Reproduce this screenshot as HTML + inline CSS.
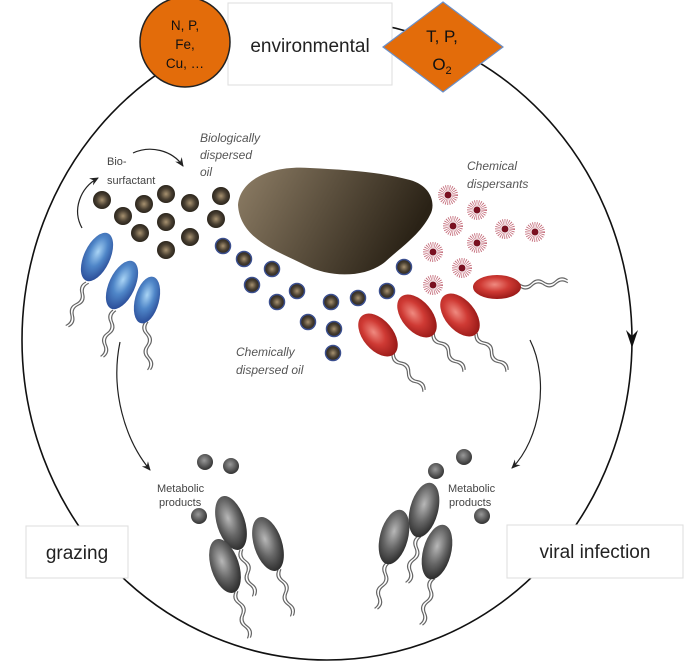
<!DOCTYPE html>
<html><head><meta charset="utf-8"><style>
html,body{margin:0;padding:0;background:#fff;width:685px;height:666px;overflow:hidden}
svg{display:block}
text{font-family:"Liberation Sans",sans-serif}
.it{font-style:italic;fill:#555;font-size:12px}
.lb{fill:#444;font-size:11px}
.tail{fill:none;stroke:#666;stroke-width:1.2}
</style></head><body>
<svg width="685" height="666" viewBox="0 0 685 666">
<defs>
<radialGradient id="blue" cx="0.45" cy="0.4" r="0.6"><stop offset="0" stop-color="#a9d4f5"/><stop offset="0.5" stop-color="#4f86c8"/><stop offset="1" stop-color="#2c4f9a"/></radialGradient>
<radialGradient id="red" cx="0.45" cy="0.4" r="0.6"><stop offset="0" stop-color="#ef8a80"/><stop offset="0.5" stop-color="#cf3a34"/><stop offset="1" stop-color="#9a1a18"/></radialGradient>
<radialGradient id="gray" cx="0.45" cy="0.4" r="0.6"><stop offset="0" stop-color="#b8b8b8"/><stop offset="0.55" stop-color="#666"/><stop offset="1" stop-color="#2e2e2e"/></radialGradient>
<radialGradient id="drop" cx="0.5" cy="0.5" r="0.5"><stop offset="0" stop-color="#a89270"/><stop offset="0.6" stop-color="#4a4032"/><stop offset="1" stop-color="#2a241b"/></radialGradient>
<radialGradient id="gdrop" cx="0.45" cy="0.4" r="0.55"><stop offset="0" stop-color="#999"/><stop offset="1" stop-color="#3a3a3a"/></radialGradient>
<linearGradient id="oil" x1="0" y1="0" x2="1" y2="0.3"><stop offset="0" stop-color="#8e7e66"/><stop offset="1" stop-color="#2a2216"/></linearGradient>
<marker id="ah" markerWidth="10" markerHeight="10" refX="8" refY="5" orient="auto" markerUnits="userSpaceOnUse"><path d="M0,1 L9,5 L0,9 L3,5 Z" fill="#222"/></marker>
<g id="wt"><path class="tail" d="M0,0 q-5,6 0,12 q5,6 0,12 q-5,6 0,12 q5,6 0,12"/><path class="tail" d="M3,0 q-5,6 0,12 q5,6 0,12 q-5,6 0,12 q5,6 0,12"/></g>
<g id="ds"><circle r="7" fill="none" stroke="#b85060" stroke-width="6" stroke-dasharray="0.7 1.1" opacity="0.85"/><circle r="3.5" fill="#7a1020"/></g>
</defs>

<!-- big circle -->
<ellipse cx="327" cy="340" rx="305" ry="320" fill="none" stroke="#111" stroke-width="1.6"/>
<path d="M626,330 L632,348 L638,330 L632,336 Z" fill="#111"/>

<!-- top nodes -->
<rect x="228" y="3" width="164" height="82" fill="#fff"/>
<rect x="228" y="3" width="164" height="82" fill="none" stroke="#ddd" stroke-width="1"/>
<text x="310" y="52" text-anchor="middle" font-size="19" fill="#222">environmental</text>
<circle cx="185" cy="42" r="45" fill="#e36c0a" stroke="#222" stroke-width="1.5"/>
<text x="185" y="30" text-anchor="middle" font-size="13.5" fill="#111">N, P,</text>
<text x="185" y="49" text-anchor="middle" font-size="13.5" fill="#111">Fe,</text>
<text x="185" y="68" text-anchor="middle" font-size="13.5" fill="#111">Cu, …</text>
<polygon points="443,2 503,47 443,92 383,47" fill="#e36c0a" stroke="#6a8fc8" stroke-width="1.2"/>
<text x="442" y="42" text-anchor="middle" font-size="17" fill="#111">T, P,</text>
<text x="442" y="70" text-anchor="middle" font-size="17" fill="#111">O<tspan font-size="11" dy="4">2</tspan></text>

<!-- bottom boxes -->
<rect x="26" y="526" width="102" height="52" fill="#fff" stroke="#ddd"/>
<text x="77" y="559" text-anchor="middle" font-size="19" fill="#222">grazing</text>
<rect x="507" y="525" width="176" height="53" fill="#fff" stroke="#ddd"/>
<text x="595" y="558" text-anchor="middle" font-size="19" fill="#222">viral infection</text>

<!-- oil blob -->
<path d="M238,205 C240,180 270,165 310,168 C350,170 380,172 410,180 C432,186 436,205 430,215 C420,235 400,248 385,262 C365,278 330,278 305,265 C280,252 240,240 238,205 Z" fill="url(#oil)"/>

<!-- brown droplets -->
<g fill="url(#drop)">
<circle cx="102" cy="200" r="9"/><circle cx="123" cy="216" r="9"/><circle cx="144" cy="204" r="9"/><circle cx="166" cy="194" r="9"/><circle cx="190" cy="203" r="9"/><circle cx="221" cy="196" r="9"/><circle cx="140" cy="233" r="9"/><circle cx="166" cy="222" r="9"/><circle cx="190" cy="237" r="9"/><circle cx="166" cy="250" r="9"/><circle cx="216" cy="219" r="9"/>
</g>
<g fill="url(#drop)" stroke="#3b4f8e" stroke-width="1.5">
<circle cx="223" cy="246" r="7.5"/><circle cx="244" cy="259" r="7.5"/><circle cx="272" cy="269" r="7.5"/><circle cx="252" cy="285" r="7.5"/><circle cx="277" cy="302" r="7.5"/><circle cx="297" cy="291" r="7.5"/><circle cx="308" cy="322" r="7.5"/><circle cx="331" cy="302" r="7.5"/><circle cx="334" cy="329" r="7.5"/><circle cx="333" cy="353" r="7.5"/><circle cx="358" cy="298" r="7.5"/><circle cx="387" cy="291" r="7.5"/><circle cx="404" cy="267" r="7.5"/>
</g>
<!-- dispersants -->
<use href="#ds" x="448" y="195"/><use href="#ds" x="477" y="210"/><use href="#ds" x="453" y="226"/><use href="#ds" x="505" y="229"/><use href="#ds" x="535" y="232"/><use href="#ds" x="477" y="243"/><use href="#ds" x="433" y="252"/><use href="#ds" x="462" y="268"/><use href="#ds" x="433" y="285"/>

<!-- blue bacteria -->
<use href="#wt" transform="translate(86,282) rotate(25)"/>
<use href="#wt" transform="translate(113,310) rotate(15)"/>
<use href="#wt" transform="translate(145,322) rotate(-3)"/>
<ellipse cx="97" cy="257" rx="13" ry="26" transform="rotate(25 97 257)" fill="url(#blue)"/>
<ellipse cx="122" cy="285" rx="13" ry="26" transform="rotate(25 122 285)" fill="url(#blue)"/>
<ellipse cx="147" cy="300" rx="12" ry="24" transform="rotate(15 147 300)" fill="url(#blue)"/>

<!-- red bacteria -->
<use href="#wt" transform="translate(392,355) rotate(-40)"/>
<use href="#wt" transform="translate(432,335) rotate(-40)"/>
<use href="#wt" transform="translate(475,335) rotate(-40)"/>
<use href="#wt" transform="translate(520,287) rotate(-95)"/>
<ellipse cx="378" cy="335" rx="15" ry="25" transform="rotate(-40 378 335)" fill="url(#red)"/>
<ellipse cx="417" cy="316" rx="15" ry="25" transform="rotate(-40 417 316)" fill="url(#red)"/>
<ellipse cx="460" cy="315" rx="15" ry="25" transform="rotate(-40 460 315)" fill="url(#red)"/>
<ellipse cx="497" cy="287" rx="24" ry="12" fill="url(#red)"/>

<!-- gray bacteria -->
<use href="#wt" transform="translate(240,550) rotate(-15)"/>
<use href="#wt" transform="translate(278,570) rotate(-15)"/>
<use href="#wt" transform="translate(235,592) rotate(-15)"/>
<use href="#wt" transform="translate(418,536) rotate(15)"/>
<use href="#wt" transform="translate(387,562) rotate(15)"/>
<use href="#wt" transform="translate(432,578) rotate(15)"/>
<ellipse cx="231" cy="523" rx="14" ry="28" transform="rotate(-18 231 523)" fill="url(#gray)"/>
<ellipse cx="268" cy="544" rx="14" ry="28" transform="rotate(-18 268 544)" fill="url(#gray)"/>
<ellipse cx="225" cy="566" rx="14" ry="28" transform="rotate(-18 225 566)" fill="url(#gray)"/>
<ellipse cx="424" cy="510" rx="14" ry="28" transform="rotate(15 424 510)" fill="url(#gray)"/>
<ellipse cx="394" cy="537" rx="14" ry="28" transform="rotate(15 394 537)" fill="url(#gray)"/>
<ellipse cx="437" cy="552" rx="14" ry="28" transform="rotate(15 437 552)" fill="url(#gray)"/>
<g fill="url(#gdrop)">
<circle cx="205" cy="462" r="8"/><circle cx="231" cy="466" r="8"/><circle cx="199" cy="516" r="8"/>
<circle cx="464" cy="457" r="8"/><circle cx="436" cy="471" r="8"/><circle cx="482" cy="516" r="8"/>
</g>

<!-- arrows -->
<path d="M120,342 C110,390 125,440 150,470" fill="none" stroke="#222" stroke-width="1.2" marker-end="url(#ah)"/>
<path d="M530,340 C550,380 540,440 512,468" fill="none" stroke="#222" stroke-width="1.2" marker-end="url(#ah)"/>
<path d="M82,228 C72,210 80,188 98,178" fill="none" stroke="#222" stroke-width="1.2" marker-end="url(#ah)"/>
<path d="M133,153 C150,145 172,150 183,166" fill="none" stroke="#222" stroke-width="1.2" marker-end="url(#ah)"/>

<!-- labels -->
<text x="107" y="165" class="lb" font-size="13">Bio-</text>
<text x="107" y="184" class="lb" font-size="13">surfactant</text>
<text x="200" y="142" class="it">Biologically</text>
<text x="200" y="159" class="it">dispersed</text>
<text x="200" y="176" class="it">oil</text>
<text x="467" y="170" class="it">Chemical</text>
<text x="467" y="188" class="it">dispersants</text>
<text x="236" y="356" class="it">Chemically</text>
<text x="236" y="374" class="it">dispersed oil</text>
<text x="157" y="492" class="lb" font-size="10.5">Metabolic</text>
<text x="159" y="506" class="lb" font-size="10.5">products</text>
<text x="448" y="492" class="lb" font-size="10.5">Metabolic</text>
<text x="449" y="506" class="lb" font-size="10.5">products</text>
</svg>
</body></html>
